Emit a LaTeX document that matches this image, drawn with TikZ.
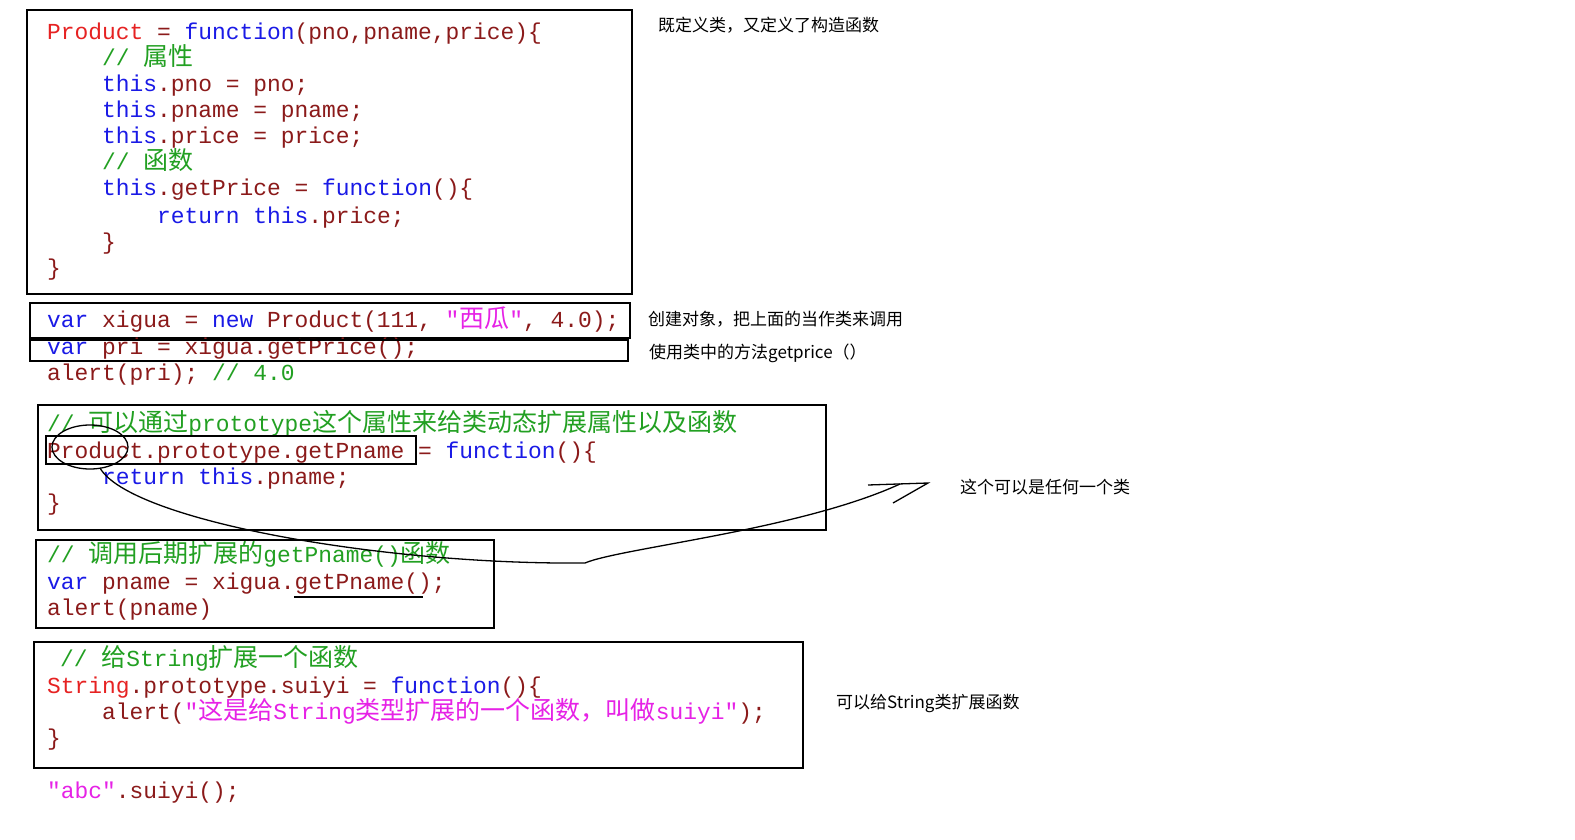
\documentclass[tikz,border=0pt]{standalone}
\usepackage{fontspec}
\usepackage{xcolor}
\newfontfamily\code{Liberation Mono}
\newfontfamily\cjk{Noto Sans CJK SC}
\definecolor{idc}{HTML}{8B1A1A}
\definecolor{kwc}{HTML}{1A1AE6}
\definecolor{cmc}{HTML}{22A022}
\definecolor{stc}{HTML}{E622E6}
\definecolor{rdc}{HTML}{E62222}
\newcommand\Kw[1]{\textcolor{kwc}{#1}}
\newcommand\Cm[1]{\textcolor{cmc}{#1}}
\newcommand\St[1]{\textcolor{stc}{#1}}
\newcommand\Rd[1]{\textcolor{rdc}{#1}}
\newcommand\Zh[1]{{\cjk\fontsize{25}{25}\selectfont #1}}
\tikzset{
  cl/.style={anchor=base west,inner sep=0pt,font=\code\fontsize{22.9}{22.9}\selectfont,text=idc},
  note/.style={anchor=west,inner sep=0pt,font=\cjk\fontsize{17}{17}\selectfont},
  frame/.style={draw,line width=1.6pt},
  pen/.style={line width=1.3pt}
}
\begin{document}
\begin{tikzpicture}[x=1pt,y=-1pt]
\useasboundingbox[fill=white] (0,0) rectangle (1575,840);
% box 1
\draw[frame] (27,10) rectangle (632,294);
\node[cl] (l1) at (47,40) {\Rd{Product} = \Kw{function}(pno,pname,price)\{};
\node[cl] (l2) at (102,66) {\Cm{// \Zh{属性}}};
\node[cl] (l3) at (102,92) {\Kw{this}.pno = pno;};
\node[cl] (l4) at (102,118) {\Kw{this}.pname = pname;};
\node[cl] (l5) at (102,144) {\Kw{this}.price = price;};
\node[cl] (l6) at (102,170) {\Cm{// \Zh{函数}}};
\node[cl] (l7) at (102,196) {\Kw{this}.getPrice = \Kw{function}()\{};
\node[cl] (l8) at (157,223) {\Kw{return} \Kw{this}.price;};
\node[cl] (l9) at (102,249) {\}};
\node[cl] (l10) at (47,275) {\}};
% box 2,3
\draw[frame] (30,303) rectangle (630,338);
\node[cl] (m1) at (47,327) {\Kw{var} xigua = \Kw{new} Product(111, \St{"\Zh{西瓜}"}, 4.0);};
\node[cl] (m2) at (47,354) {\Kw{var} pri = xigua.getPrice();};
\draw[frame] (30,340) rectangle (628,361);
\node[cl] (m3) at (47,380) {alert(pri); \Cm{// 4.0}};
% box 4
\draw[frame] (38,405) rectangle (826,530);
\node[cl] (p1) at (47,431) {\Cm{// \Zh{可以通过}prototype\Zh{这个属性来给类动态扩展属性以及函数}}};
\node[cl] (p2) at (47,458) {Product.prototype.getPname = \Kw{function}()\{};
\node[cl] (p3) at (102,484) {\Kw{return} \Kw{this}.pname;};
\node[cl] (p4) at (47,510) {\}};
\draw[frame] (46,436) rectangle (416,464);
\draw[pen] (90,447) ellipse [x radius=38,y radius=22];
% box 5
\draw[frame] (36,540) rectangle (494,628);
\node[cl] (q1) at (47,562) {\Cm{// \Zh{调用后期扩展的}getPname()\Zh{函数}}};
\node[cl] (q2) at (47,589) {\Kw{var} pname = xigua.getPname();};
\node[cl] (q3) at (47,615) {alert(pname)};
\draw[line width=2pt] (294,597) -- (423,597);
% box 6
\draw[frame] (34,642) rectangle (803,768);
\node[cl] (s1) at (60,666) {\Cm{// \Zh{给}String\Zh{扩展一个函数}}};
\node[cl] (s2) at (47,693) {\Rd{String}.prototype.suiyi = \Kw{function}()\{};
\node[cl] (s3) at (102,719) {alert(\St{"\Zh{这是给}String\Zh{类型扩展的一个函数，叫做}suiyi"});};
\node[cl] (s4) at (47,745) {\}};
\node[cl] (t1) at (47,798) {\St{"abc"}.suiyi();};
% notes
\node[note] (n1) at (658,25) {既定义类，又定义了构造函数};
\node[note] (n2) at (648,319) {创建对象，把上面的当作类来调用};
\node[note] (n3) at (649,353) {使用类中的方法getprice（）};
\node[note] (n4) at (960,487) {这个可以是任何一个类};
\node[note] (n5) at (836,703) {可以给String类扩展函数};
% hand-drawn curve
\coordinate (c0) at (100,468);
\coordinate (c1) at (585,563);
\coordinate (c2) at (900,484);
\draw[pen] (c0) .. controls (130,520) and (380,565) .. (c1)
  .. controls (620,548) and (800,530) .. (c2);
\draw[pen] (868,485) -- (928,483) -- (893,503);
\end{tikzpicture}
\end{document}
